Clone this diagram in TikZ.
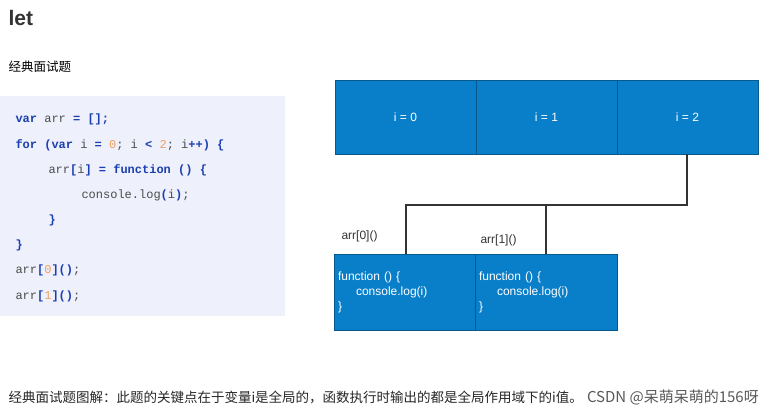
\documentclass[tikz,border=0pt]{standalone}
\usepackage{fontspec}
\setmainfont{Liberation Sans}
\newfontfamily\cjk{Noto Sans CJK SC}
\newfontfamily\codefont{Liberation Mono}
\definecolor{boxblue}{HTML}{0A7FC9}
\definecolor{kw}{HTML}{1A3FB0}
\definecolor{num}{HTML}{F0A060}
\definecolor{panel}{HTML}{EEF0FB}
\begin{document}
\begin{tikzpicture}[x=1pt,y=-1pt,
  cell/.style={draw=boxblue!70!black,fill=boxblue,line width=0.6pt},
  celltext/.style={text=white,font=\fontsize{12}{15}\selectfont},
  lbl/.style={font=\fontsize{12}{14}\selectfont,text=black!80},
  wire/.style={line width=1.5pt,draw=black!80},
  code/.style={anchor=west,font=\codefont\fontsize{12}{14}\selectfont,text=black!70}]
\useasboundingbox (0,0) rectangle (764,417);
\node[anchor=west,font=\bfseries\fontsize{21}{24}\selectfont,text=black!80] (title) at (5,18) {let};
\node[anchor=west,font=\cjk\fontsize{12.5}{14}\selectfont] (sub) at (5,67) {经典面试题};
\fill[panel] (0,96) rectangle (285,316);
\newcommand{\kw}[1]{\textcolor{kw}{\bfseries #1}}
\newcommand{\nm}[1]{\textcolor{num}{#1}}
\node[code] (c1) at (12,119) {\kw{var} arr \kw{= [];}};
\node[code] (c2) at (12,145) {\kw{for} \kw{(var} i \kw{=} \nm{0}; i \kw{<} \nm{2}; i\kw{++)} \kw{\{}};
\node[code] (c3) at (45,170) {arr\kw{[}i\kw{]} \kw{=} \kw{function} \kw{() \{}};
\node[code] (c4) at (78,195) {console.log\kw{(}i\kw{)};};
\node[code] (c5) at (45,220) {\kw{\}}};
\node[code] (c6) at (12,245) {\kw{\}}};
\node[code] (c7) at (12,270) {arr\kw{[}\nm{0}\kw{]()};};
\node[code] (c8) at (12,296) {arr\kw{[}\nm{1}\kw{]()};};
\node[cell,minimum width=141pt,minimum height=74pt,celltext] (i0) at (405.5,117) {i = 0};
\node[cell,minimum width=141pt,minimum height=74pt,celltext] (i1) at (546.5,117) {i = 1};
\node[cell,minimum width=141pt,minimum height=74pt,celltext] (i2) at (687.5,117) {i = 2};
\node[cell,minimum width=141pt,minimum height=76pt,celltext,align=left,text width=135pt] (f0) at (405.5,292) {function () \{\\\hspace{1.5em}console.log(i)\\\}};
\node[cell,minimum width=141pt,minimum height=76pt,celltext,align=left,text width=135pt] (f1) at (546.5,292) {function () \{\\\hspace{1.5em}console.log(i)\\\}};
\coordinate (j) at (687,205);
\draw[wire] (i2.south -| j) -- (j) -- (406,205) -- (f0.north -| 406,0);
\draw[wire] (546,205) -- (f1.north -| 546,0);
\node[lbl,anchor=west] (a0) at (338,236) {arr[0]()};
\node[lbl,anchor=west] (a1) at (477,240) {arr[1]()};
\node[anchor=west,font=\cjk\fontsize{13.5}{15}\selectfont,text=black!85] (foot) at (5,397) {经典面试题图解：此题的关键点在于变量i是全局的，函数执行时输出的都是全局作用域下的i值。};
\node[anchor=east,font=\cjk\fontsize{15}{17}\selectfont,text=black!65,fill=white,fill opacity=0.6,text opacity=1,inner xsep=1pt] (wm) at (760,397) {CSDN @呆萌呆萌的156呀};
\end{tikzpicture}
\end{document}
